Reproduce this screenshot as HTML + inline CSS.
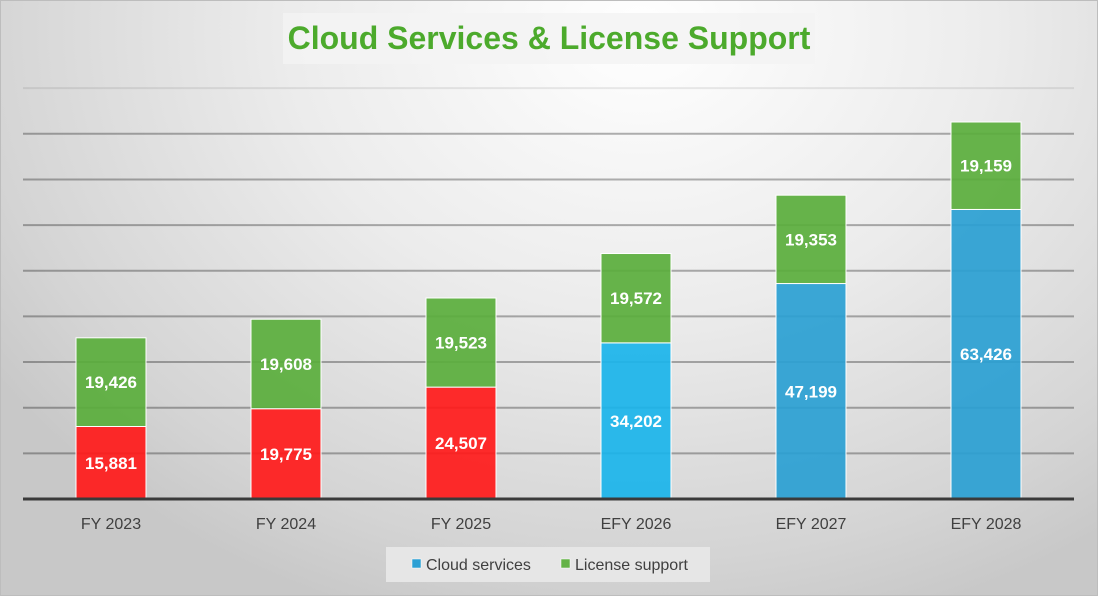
<!DOCTYPE html>
<html><head><meta charset="utf-8"><style>
html,body{margin:0;padding:0;}
body{width:1098px;height:596px;overflow:hidden;font-family:"Liberation Sans",sans-serif;}
#chart{position:absolute;left:0;top:0;width:1096px;height:594px;border:1px solid #bdbdbd;
background:radial-gradient(ellipse 780px 620px at 640px 30px,#ffffff 0%,#ececec 45%,#d4d4d4 85%,#c8c8c8 100%);}
</style></head><body>
<div id="chart">
<svg id="svg" width="1098" height="596" style="position:absolute;left:-1px;top:-1px">
<rect x="283" y="13" width="532" height="51" fill="#f3f3f3" opacity="0.85"/>
<text x="549" y="49" text-anchor="middle" font-size="32" font-weight="bold" fill="#4caa2c" font-family="Liberation Sans, sans-serif">Cloud Services &amp; License Support</text>
<g id="grid"></g>
<g id="bars"></g>
<g id="xlabels"></g>
<rect x="386" y="547" width="324" height="35" fill="#e6e6e6"/>
<rect x="412" y="559" width="9" height="9" fill="#2ca0d4" stroke="#fff" stroke-width="0.5"/>
<text x="426" y="570" font-size="16" fill="#404040">Cloud services</text>
<rect x="561" y="559" width="9" height="9" fill="#63b246" stroke="#fff" stroke-width="0.5"/>
<text x="575" y="570" font-size="16" fill="#404040">License support</text>
</svg>
</div>
<script>
const categories=["FY 2023","FY 2024","FY 2025","EFY 2026","EFY 2027","EFY 2028"];
const cloudValues=[15881,19775,24507,34202,47199,63426];
const licenseValues=[19426,19608,19523,19572,19353,19159];
const cloudColors=["#ff1a1a","#ff1a1a","#ff1a1a","#1ab4ea","#2a9fd2","#2a9fd2"];
const yTicks=[0,10000,20000,30000,40000,50000,60000,70000,80000,90000];
const NS="http://www.w3.org/2000/svg";
const baseY=499,pxPer=45.65/10000;
function y(v){return baseY-v*pxPer;}
function x(i){return 111+i*175;}
function mk(t,a,p){const e=document.createElementNS(NS,t);for(const k in a)e.setAttribute(k,a[k]);p.appendChild(e);return e;}
const grid=document.getElementById('grid'),bars=document.getElementById('bars'),xl=document.getElementById('xlabels');
yTicks.forEach((t,i)=>{if(t===0)return;
 const l=mk('line',{x1:23,x2:1074,y1:y(t),y2:y(t),stroke:'#000','stroke-opacity':i===yTicks.length-1?0.08:0.3,'stroke-width':2},grid);
 
 });
categories.forEach((c,i)=>{
 const cx=x(i),w=70;
 const r1=mk('rect',{x:cx-w/2,y:y(cloudValues[i]),width:w,height:baseY-y(cloudValues[i]),fill:cloudColors[i],'fill-opacity':0.92,stroke:'#fff','stroke-width':1},bars);
 
 
 const top=cloudValues[i]+licenseValues[i];
 const r2=mk('rect',{x:cx-w/2,y:y(top),width:w,height:y(cloudValues[i])-y(top),fill:'#5aae3c','fill-opacity':0.92,stroke:'#fff','stroke-width':1},bars);
 
 
 const t1=mk('text',{x:cx,y:(y(cloudValues[i])+baseY)/2+6,'text-anchor':'middle','font-size':17,'font-weight':'bold',fill:'#fff'},bars);
 t1.textContent=cloudValues[i].toLocaleString('en-US');
 
 
 const t2=mk('text',{x:cx,y:(y(top)+y(cloudValues[i]))/2+6,'text-anchor':'middle','font-size':17,'font-weight':'bold',fill:'#fff'},bars);
 t2.textContent=licenseValues[i].toLocaleString('en-US');
 
 
 const t3=mk('text',{x:cx,y:529,'text-anchor':'middle','font-size':16,fill:'#404040'},xl);
 t3.textContent=c;
 
 
});
const ax=mk('line',{x1:23,x2:1074,y1:baseY,y2:baseY,stroke:'#3a3a3a','stroke-width':3},bars);


</script>
</body></html>
